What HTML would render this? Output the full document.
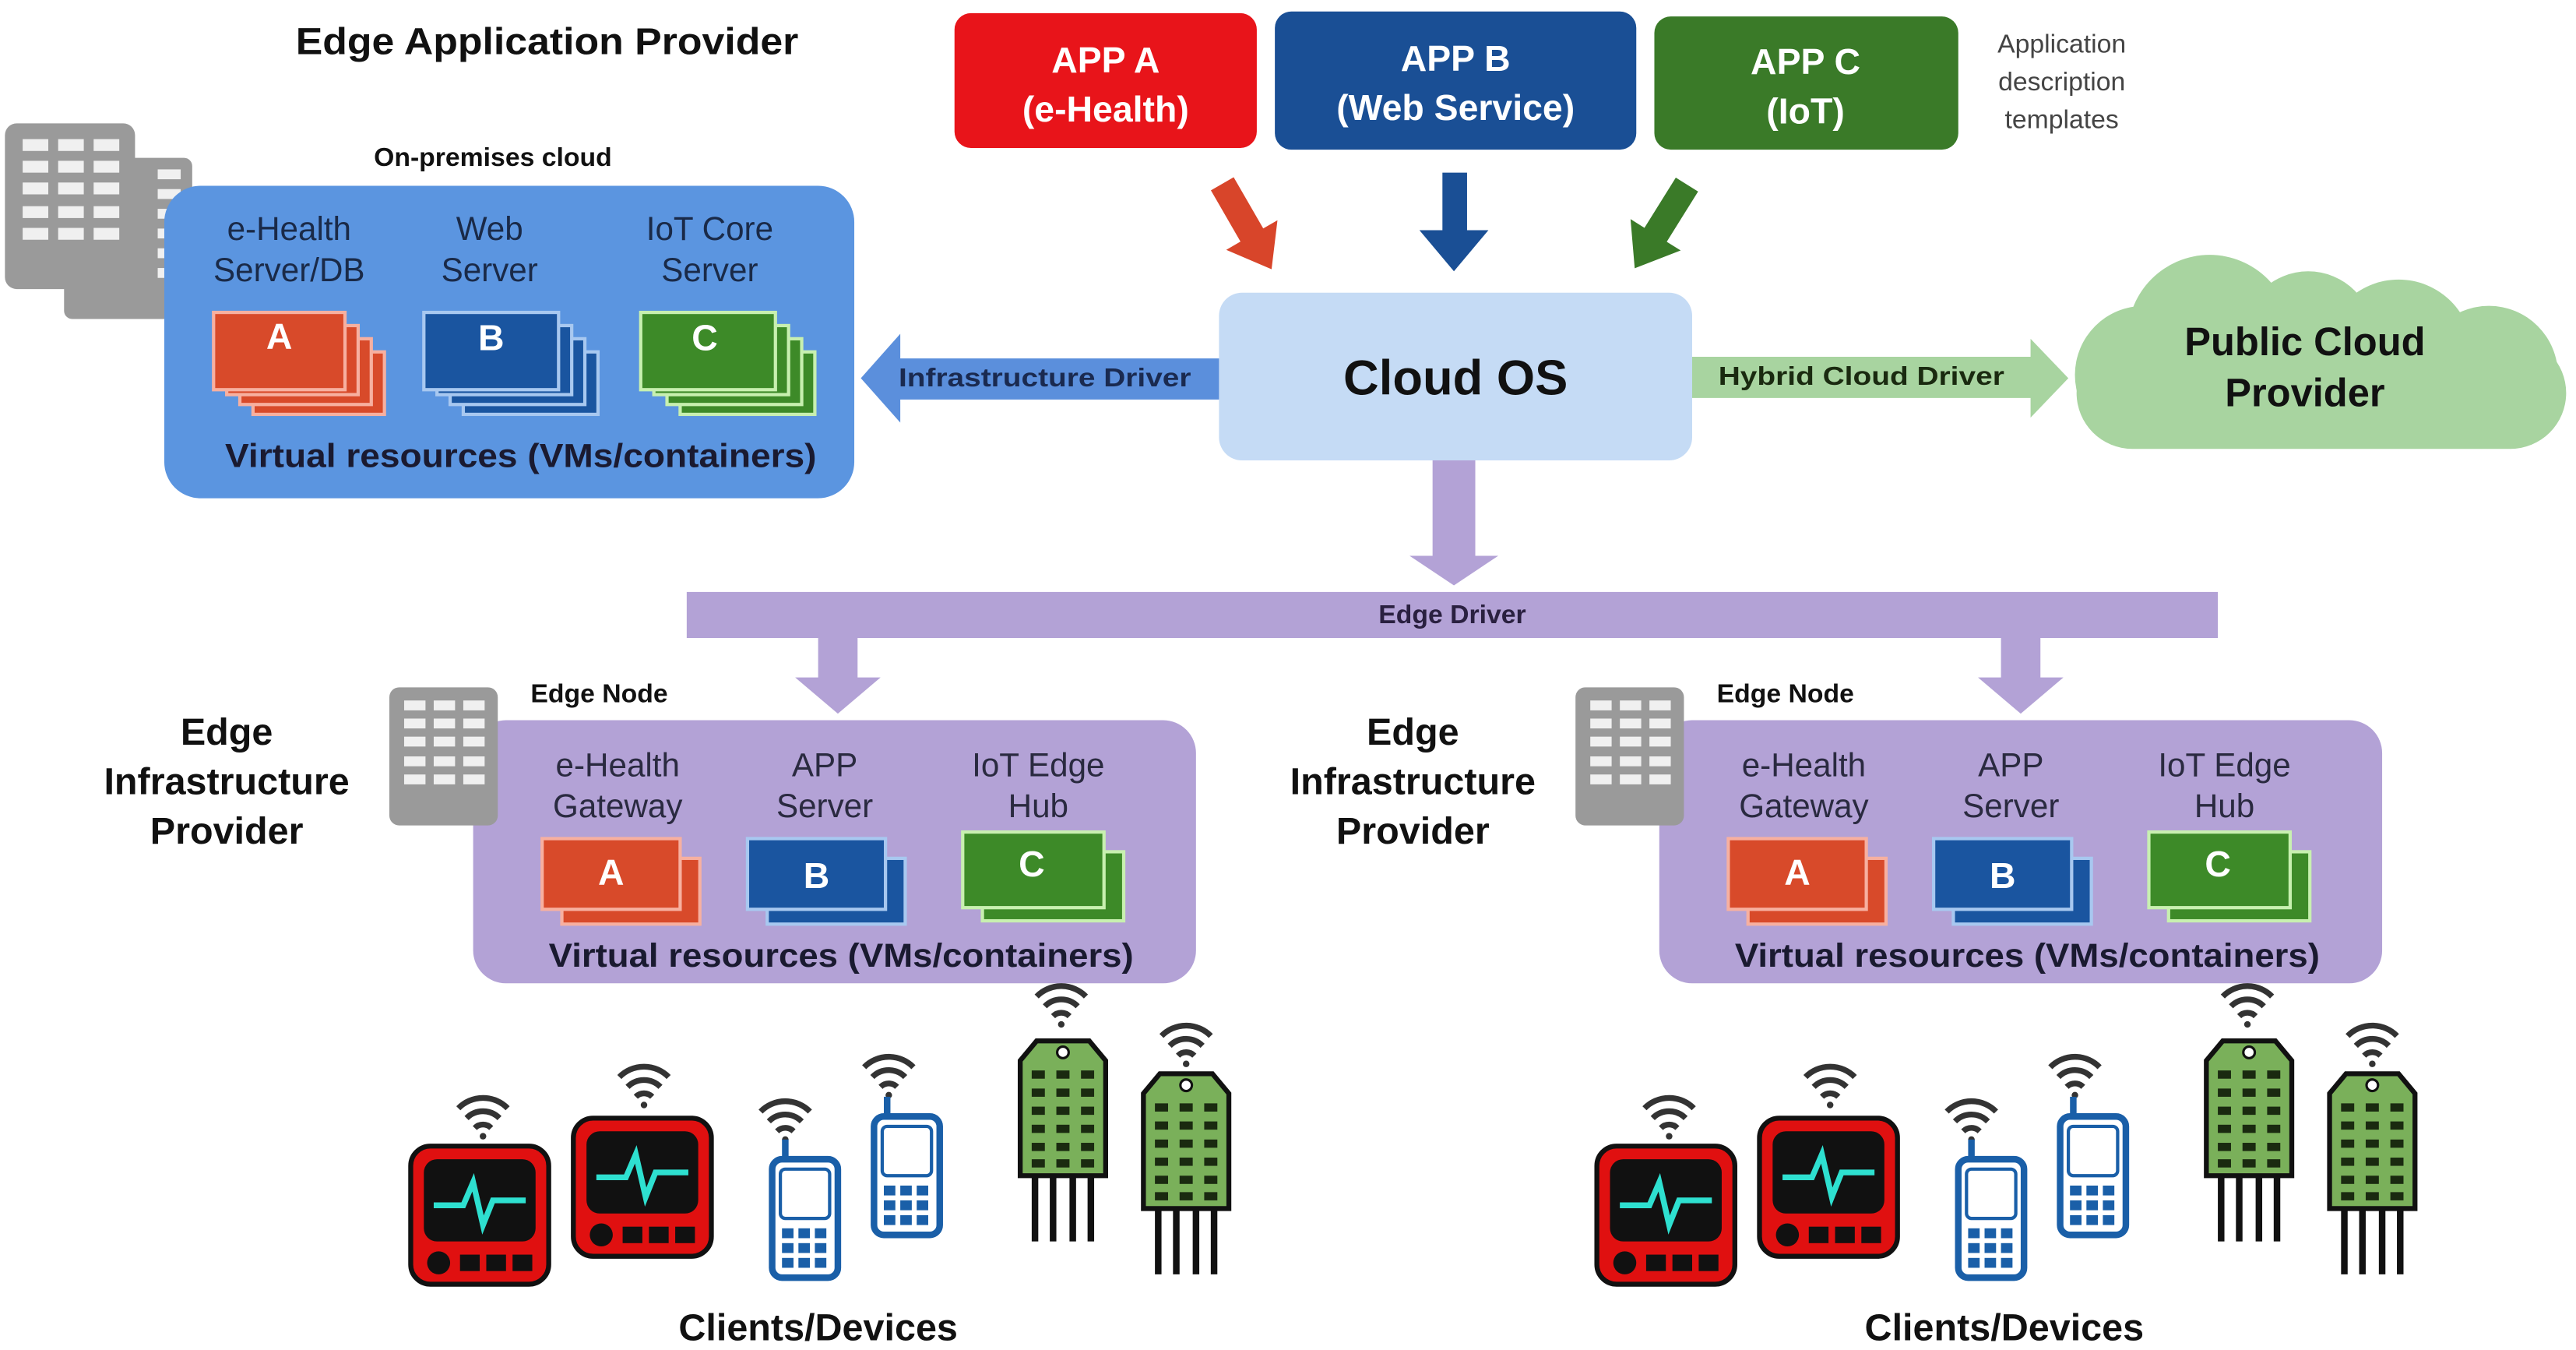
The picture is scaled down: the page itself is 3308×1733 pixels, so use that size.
<!DOCTYPE html>
<html><head><meta charset="utf-8"><style>
html,body{margin:0;padding:0;background:#fff;}
svg{display:block;}
text{font-family:"Liberation Sans",sans-serif;}
</style></head><body>
<svg width="3308" height="1733" viewBox="0 0 1568 821" preserveAspectRatio="none" xmlns="http://www.w3.org/2000/svg">
<defs>
<g id="srv">
<rect x="0" y="0" width="66" height="84" rx="6" fill="#9a9a9a"/>
<g fill="#f0f0f0">
<rect x="9" y="8" width="13" height="6"/><rect x="27" y="8" width="13" height="6"/><rect x="45" y="8" width="13" height="6"/>
<rect x="9" y="19" width="13" height="6"/><rect x="27" y="19" width="13" height="6"/><rect x="45" y="19" width="13" height="6"/>
<rect x="9" y="30" width="13" height="6"/><rect x="27" y="30" width="13" height="6"/><rect x="45" y="30" width="13" height="6"/>
<rect x="9" y="42" width="13" height="6"/><rect x="27" y="42" width="13" height="6"/><rect x="45" y="42" width="13" height="6"/>
<rect x="9" y="53" width="13" height="6"/><rect x="27" y="53" width="13" height="6"/><rect x="45" y="53" width="13" height="6"/>
</g>
</g>
<g id="wifi" fill="none" stroke="#333" stroke-width="3.5">
<path d="M-15,-6 A21,21 0 0 1 15,-6"/><path d="M-10,0 A14,14 0 0 1 10,0"/><path d="M-5,6 A7,7 0 0 1 5,6"/>
<circle cx="0" cy="11" r="2" fill="#333" stroke="none"/>
</g>
<g id="mon">
<rect x="0" y="0" width="84" height="84" rx="12" fill="#e01010" stroke="#111" stroke-width="3"/>
<rect x="8" y="8" width="68" height="50" rx="8" fill="#111"/>
<path d="M14,36 H32 L38,22 L44,48 L50,33 H70" fill="none" stroke="#2ee0d0" stroke-width="3.5"/>
<circle cx="17" cy="71" r="7" fill="#111"/>
<rect x="30" y="66" width="12" height="10" fill="#111"/><rect x="46" y="66" width="12" height="10" fill="#111"/><rect x="62" y="66" width="12" height="10" fill="#111"/>
</g>
<g id="phone">
<rect x="6" y="-12" width="4" height="14" fill="#1a5fa8"/>
<rect x="0" y="0" width="40" height="72" rx="6" fill="#fff" stroke="#1a5fa8" stroke-width="4"/>
<rect x="5" y="6" width="30" height="30" rx="3" fill="#fff" stroke="#1a5fa8" stroke-width="2"/>
<g fill="#1a5fa8"><rect x="6" y="42" width="7" height="6"/><rect x="16" y="42" width="7" height="6"/><rect x="26" y="42" width="7" height="6"/>
<rect x="6" y="51" width="7" height="6"/><rect x="16" y="51" width="7" height="6"/><rect x="26" y="51" width="7" height="6"/>
<rect x="6" y="60" width="7" height="6"/><rect x="16" y="60" width="7" height="6"/><rect x="26" y="60" width="7" height="6"/></g>
</g>
<g id="sens">
<path d="M0,12 L10,0 H42 L52,12 V82 H0 Z" fill="#7ab05a" stroke="#111" stroke-width="3"/>
<circle cx="26" cy="7" r="3.5" fill="#fff" stroke="#111" stroke-width="1.5"/>
<g fill="#1a2a10">
<rect x="7" y="18" width="8" height="5"/><rect x="22" y="18" width="8" height="5"/><rect x="37" y="18" width="8" height="5"/>
<rect x="7" y="29" width="8" height="5"/><rect x="22" y="29" width="8" height="5"/><rect x="37" y="29" width="8" height="5"/>
<rect x="7" y="40" width="8" height="5"/><rect x="22" y="40" width="8" height="5"/><rect x="37" y="40" width="8" height="5"/>
<rect x="7" y="51" width="8" height="5"/><rect x="22" y="51" width="8" height="5"/><rect x="37" y="51" width="8" height="5"/>
<rect x="7" y="62" width="8" height="5"/><rect x="22" y="62" width="8" height="5"/><rect x="37" y="62" width="8" height="5"/>
<rect x="7" y="72" width="8" height="5"/><rect x="22" y="72" width="8" height="5"/><rect x="37" y="72" width="8" height="5"/>
</g>
<g stroke="#111" stroke-width="4"><line x1="9" y1="82" x2="9" y2="122"/><line x1="20" y1="82" x2="20" y2="122"/><line x1="32" y1="82" x2="32" y2="122"/><line x1="43" y1="82" x2="43" y2="122"/></g>
</g>
<g id="edge">
<rect x="288" y="438" width="440" height="160" rx="20" fill="#b3a2d6"/>
<use href="#srv" x="237" y="418"/>
<text x="323" y="427" font-size="16" font-weight="bold" fill="#111">Edge Node</text>
<g font-size="20" fill="#2a2a40" text-anchor="middle">
<text x="376" y="472">e-Health</text><text x="376" y="497">Gateway</text>
<text x="502" y="472">APP</text><text x="502" y="497">Server</text>
<text x="632" y="472">IoT Edge</text><text x="632" y="497">Hub</text>
</g>
<rect x="342" y="522" width="84" height="40" fill="#d84a2a" stroke="#f7b0a0" stroke-width="2"/>
<rect x="330" y="510" width="84" height="43" fill="#d84a2a" stroke="#f7b0a0" stroke-width="2"/>
<rect x="467" y="522" width="84" height="40" fill="#1a55a0" stroke="#a8c8f0" stroke-width="2"/>
<rect x="455" y="510" width="84" height="43" fill="#1a55a0" stroke="#a8c8f0" stroke-width="2"/>
<rect x="598" y="518" width="86" height="42" fill="#3d8a28" stroke="#c8f0b0" stroke-width="2"/>
<rect x="586" y="506" width="86" height="46" fill="#3d8a28" stroke="#c8f0b0" stroke-width="2"/>
<g font-size="22" font-weight="bold" fill="#fff" text-anchor="middle"><text x="372" y="538">A</text><text x="497" y="540">B</text><text x="628" y="533">C</text></g>
<text x="334" y="588" font-size="20" font-weight="bold" fill="#1a1a30" textLength="356" lengthAdjust="spacingAndGlyphs">Virtual resources (VMs/containers)</text>
<text x="138" y="453" font-size="23" font-weight="bold" fill="#111" text-anchor="middle">Edge</text>
<text x="138" y="483" font-size="23" font-weight="bold" fill="#111" text-anchor="middle">Infrastructure</text>
<text x="138" y="513" font-size="23" font-weight="bold" fill="#111" text-anchor="middle">Provider</text>
<use href="#wifi" x="294" y="680"/><use href="#mon" x="250" y="697"/>
<use href="#wifi" x="392" y="661"/><use href="#mon" x="349" y="680"/>
<use href="#wifi" x="478" y="682"/><use href="#phone" x="470" y="705"/>
<use href="#wifi" x="541" y="655"/><use href="#phone" x="532" y="679"/>
<use href="#wifi" x="646" y="612"/><use href="#sens" x="621" y="633"/>
<use href="#wifi" x="722" y="636"/><use href="#sens" x="696" y="653"/>
<text x="498" y="815" font-size="23" font-weight="bold" fill="#111" text-anchor="middle">Clients/Devices</text>
</g>
</defs>

<text x="333" y="33" font-size="23" font-weight="bold" fill="#111" text-anchor="middle" textLength="306" lengthAdjust="spacingAndGlyphs">Edge Application Provider</text>

<rect x="581" y="8" width="184" height="82" rx="10" fill="#e8141a"/>
<rect x="776" y="7" width="220" height="84" rx="10" fill="#1a4f95"/>
<rect x="1007" y="10" width="185" height="81" rx="10" fill="#3a7a28"/>
<g font-size="22" font-weight="bold" fill="#fff" text-anchor="middle">
<text x="673" y="44">APP A</text><text x="673" y="74">(e-Health)</text>
<text x="886" y="43">APP B</text><text x="886" y="73">(Web Service)</text>
<text x="1099" y="45">APP C</text><text x="1099" y="75">(IoT)</text>
</g>
<g font-size="16" fill="#444" text-anchor="middle">
<text x="1255" y="32">Application</text><text x="1255" y="55">description</text><text x="1255" y="78">templates</text>
</g>

<g transform="translate(758,136) rotate(-30)"><path d="M-8,-28 H8 V8 H18 L0,32 L-18,8 H-8 Z" fill="#d8452a"/></g>
<path d="M878,105 H893 V140 H906 L885,165 L864,140 H878 Z" fill="#1a4f95"/>
<g transform="translate(1012,136) rotate(32)"><path d="M-8,-28 H8 V8 H18 L0,32 L-18,8 H-8 Z" fill="#3a7a28"/></g>

<rect x="742" y="178" width="288" height="102" rx="14" fill="#c5dbf5"/>
<text x="886" y="240" font-size="30" font-weight="bold" fill="#111" text-anchor="middle">Cloud OS</text>

<path d="M742,218 H548 V203 L524,230 L548,257 V243 H742 Z" fill="#5b8fdc"/>
<text x="636" y="235" font-size="16" font-weight="bold" fill="#1a2a50" text-anchor="middle" textLength="178" lengthAdjust="spacingAndGlyphs">Infrastructure Driver</text>
<path d="M1030,217 H1236 V206 L1259,230 L1236,254 V242 H1030 Z" fill="#a8d4a0"/>
<text x="1133" y="234" font-size="16" font-weight="bold" fill="#1a2a10" text-anchor="middle" textLength="174" lengthAdjust="spacingAndGlyphs">Hybrid Cloud Driver</text>

<g fill="#a8d4a0">
<rect x="1264" y="205" width="298" height="68" rx="34"/>
<circle cx="1345" cy="205" r="50"/>
<circle cx="1405" cy="205" r="40"/>
<circle cx="1460" cy="215" r="45"/>
<circle cx="1515" cy="228" r="42"/>
<circle cx="1305" cy="228" r="42"/>
</g>
<text x="1403" y="216" font-size="24" font-weight="bold" fill="#111" text-anchor="middle">Public Cloud</text>
<text x="1403" y="247" font-size="24" font-weight="bold" fill="#111" text-anchor="middle">Provider</text>

<rect x="38" y="95" width="80" height="100" rx="6" fill="#9a9a9a" stroke="#fff" stroke-width="2"/>
<g fill="#f0f0f0"><rect x="96" y="103" width="14" height="6"/><rect x="96" y="115" width="14" height="6"/><rect x="96" y="127" width="14" height="6"/><rect x="96" y="139" width="14" height="6"/><rect x="96" y="151" width="14" height="6"/><rect x="96" y="163" width="14" height="6"/></g>
<g transform="translate(3,75) scale(1.2,1.2)"><use href="#srv"/></g>
<rect x="100" y="113" width="420" height="190" rx="22" fill="#5b95e0"/>
<text x="300" y="101" font-size="16" font-weight="bold" fill="#111" text-anchor="middle">On-premises cloud</text>
<g font-size="20" fill="#1a2a48" text-anchor="middle">
<text x="176" y="146">e-Health</text><text x="176" y="171">Server/DB</text>
<text x="298" y="146">Web</text><text x="298" y="171">Server</text>
<text x="432" y="146">IoT Core</text><text x="432" y="171">Server</text>
</g>
<g fill="#d84a2a" stroke="#f7b0a0" stroke-width="2">
<rect x="154" y="214" width="80" height="38"/><rect x="146" y="206" width="80" height="40"/><rect x="138" y="198" width="80" height="42"/><rect x="130" y="190" width="80" height="47"/>
</g>
<g fill="#1a55a0" stroke="#a8c8f0" stroke-width="2">
<rect x="282" y="214" width="82" height="38"/><rect x="274" y="206" width="82" height="40"/><rect x="266" y="198" width="82" height="42"/><rect x="258" y="190" width="82" height="47"/>
</g>
<g fill="#3d8a28" stroke="#c8f0b0" stroke-width="2">
<rect x="414" y="214" width="82" height="38"/><rect x="406" y="206" width="82" height="40"/><rect x="398" y="198" width="82" height="42"/><rect x="390" y="190" width="82" height="47"/>
</g>
<g font-size="22" font-weight="bold" fill="#fff" text-anchor="middle"><text x="170" y="212">A</text><text x="299" y="213">B</text><text x="429" y="213">C</text></g>
<text x="137" y="284" font-size="20" font-weight="bold" fill="#1a1a30" textLength="360" lengthAdjust="spacingAndGlyphs">Virtual resources  (VMs/containers)</text>

<path d="M872,280 H898 V338 H912 L885,356 L858,338 H872 Z" fill="#b3a2d6"/>
<rect x="418" y="360" width="932" height="28" fill="#b3a2d6"/>
<text x="884" y="379" font-size="16" font-weight="bold" fill="#2a2040" text-anchor="middle">Edge Driver</text>
<path d="M498,388 H522 V412 H536 L510,434 L484,412 H498 Z" fill="#b3a2d6"/>
<path d="M1218,388 H1242 V412 H1256 L1230,434 L1204,412 H1218 Z" fill="#b3a2d6"/>

<use href="#edge"/>
<use href="#edge" x="722"/>
</svg>
</body></html>
